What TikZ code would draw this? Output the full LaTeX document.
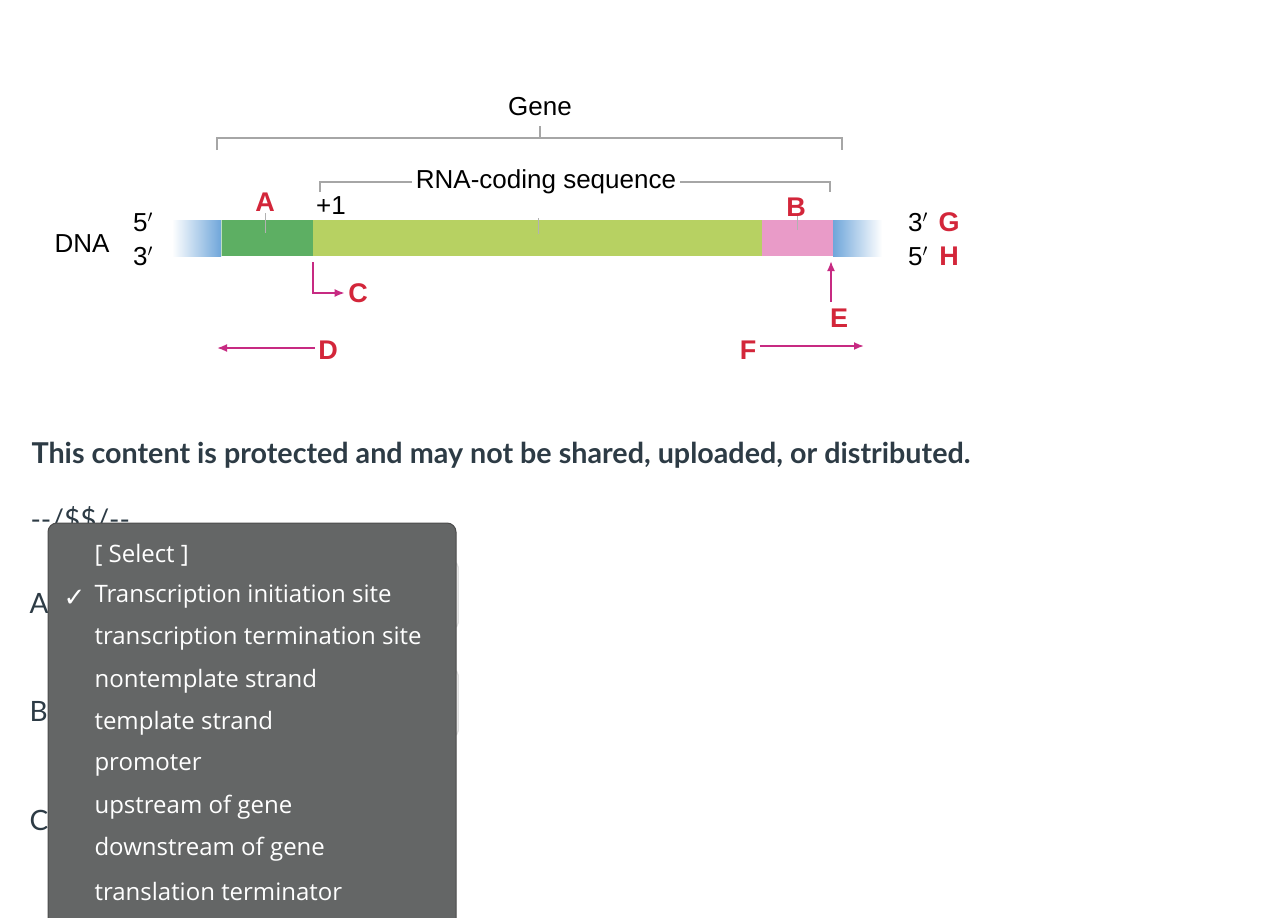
\documentclass[tikz,border=0pt]{standalone}
\usepackage{fontspec}
\setmainfont{Liberation Sans}
\newfontfamily\lato{Lato}
\newfontfamily\ui{Open Sans}
\newfontfamily\dvs{DejaVu Sans}
\usetikzlibrary{arrows.meta}
\definecolor{lab}{HTML}{D3263A}
\definecolor{arr}{HTML}{C72A82}
\definecolor{dg}{HTML}{5DAF63}
\definecolor{lg}{HTML}{B7D162}
\definecolor{pk}{HTML}{E99BC8}
\definecolor{bl}{HTML}{6FA6DA}
\definecolor{menu}{HTML}{646666}
\definecolor{txt}{HTML}{2D3B45}
\begin{document}
\begin{tikzpicture}[x=1pt,y=-1pt,
  lbl/.style={font=\fontsize{27}{27}\selectfont\bfseries, text=lab},
  dtxt/.style={font=\fontsize{26}{26}\selectfont},
  brk/.style={draw=gray!70, line width=1.2},
  pa/.style={draw=arr, line width=1.8, -{Latex[length=10,width=8]}},
  item/.style={font=\ui\fontsize{24}{24}\selectfont, text=white, anchor=west}]
\useasboundingbox (0,0) rectangle (1272,918);
% Gene bracket
\node[dtxt] (gene) at (540,107) {Gene};
\draw[brk] (217,150) -- (217,138) -- (842,138) -- (842,150);
\draw[brk] (540,138) -- (540,126);
% RNA coding bracket
\draw[brk] (320,192) -- (320,182) -- (830,182) -- (830,192);
\node[dtxt, fill=white, inner sep=4] (rna) at (546,182) {RNA-coding sequence};
% bar
\shade[left color=white, right color=bl] (172,220) rectangle (221,256);
\shade[left color=bl, right color=white] (833,220) rectangle (882,256);
\fill[dg] (221,220) rectangle (313,256);
\fill[lg] (313,220) rectangle (762,256);
\fill[pk] (762,220) rectangle (833,256);
\draw[white!60!dg, line width=1] (221,220) -- (221,256);
\draw[gray!60, line width=0.8] (265,213) -- (265,233);
\draw[gray!60, line width=0.8] (538,218) -- (538,234);
\draw[white, line width=1] (789,219) -- (805,219);
\draw[gray!60, line width=0.8] (797,213) -- (797,230);
\node[lbl] (A) at (265,202) {A};
\node[dtxt] (p1) at (331,206) {+1};
\node[lbl] (B) at (796,207) {B};
\node[dtxt] (s5) at (143,222) {5$'$};
\node[dtxt] (s3) at (143,256) {3$'$};
\node[dtxt] (dna) at (82,244) {DNA};
\node[dtxt] (r3) at (918,222) {3$'$};
\node[dtxt] (r5) at (918,256) {5$'$};
\node[lbl] (G) at (949,222) {G};
\node[lbl] (H) at (949,256) {H};
% arrows
\node[lbl] (C) at (358,293) {C};
\coordinate (c0) at (313,262);
\draw[pa] (c0) |- (C.west);
\node[lbl] (E) at (839,318) {E};
\coordinate (e1) at (831,261);
\draw[pa] (831,302) -- (e1);
\node[lbl] (D) at (328,350) {D};
\coordinate (d1) at (217,348);
\draw[pa] (D.west |- d1) -- (d1);
\node[lbl] (F) at (748,350) {F};
\coordinate (f1) at (864,346);
\draw[pa] (F.east |- f1) -- (f1);
% text
\node[font=\lato\bfseries\fontsize{28.7}{28.7}\selectfont, text=txt, anchor=west] (prot) at (28,455) {This content is protected and may not be shared, uploaded, or distributed.};
\node[font=\lato\fontsize{28}{28}\selectfont, text=txt, anchor=west] (dol) at (27,520) {-{}-/\$\$/-{}-};
\foreach \l/\yy in {A/603,B/711,C/820}
  \node[font=\lato\fontsize{28}{28}\selectfont, text=txt, anchor=west] (bg\l) at (26,\yy) {\l};
\draw[gray!25, line width=1.5, rounded corners=5] (440,562) -- (458,562) -- (458,628) -- (440,628);
\draw[gray!25, line width=1.5, rounded corners=5] (440,670) -- (458,670) -- (458,736) -- (440,736);
% menu
\draw[fill=menu, draw=gray!60!black, line width=1, rounded corners=9] (48,523) rectangle (456,935);
\node[item] (i0) at (91,555) {[ Select ]};
\node[item, font=\dvs\fontsize{26}{26}\selectfont] (chk) at (60,598) {✓};
\node[item] (i1) at (91,597) {Transcription initiation site};
\node[item] (i2) at (91,639) {transcription termination site};
\node[item] (i3) at (91,681) {nontemplate strand};
\node[item] (i4) at (91,723) {template strand};
\node[item] (i5) at (91,765) {promoter};
\node[item] (i6) at (91,807) {upstream of gene};
\node[item] (i7) at (91,849) {downstream of gene};
\node[item] (i8) at (91,891) {translation terminator};
\end{tikzpicture}
\end{document}
